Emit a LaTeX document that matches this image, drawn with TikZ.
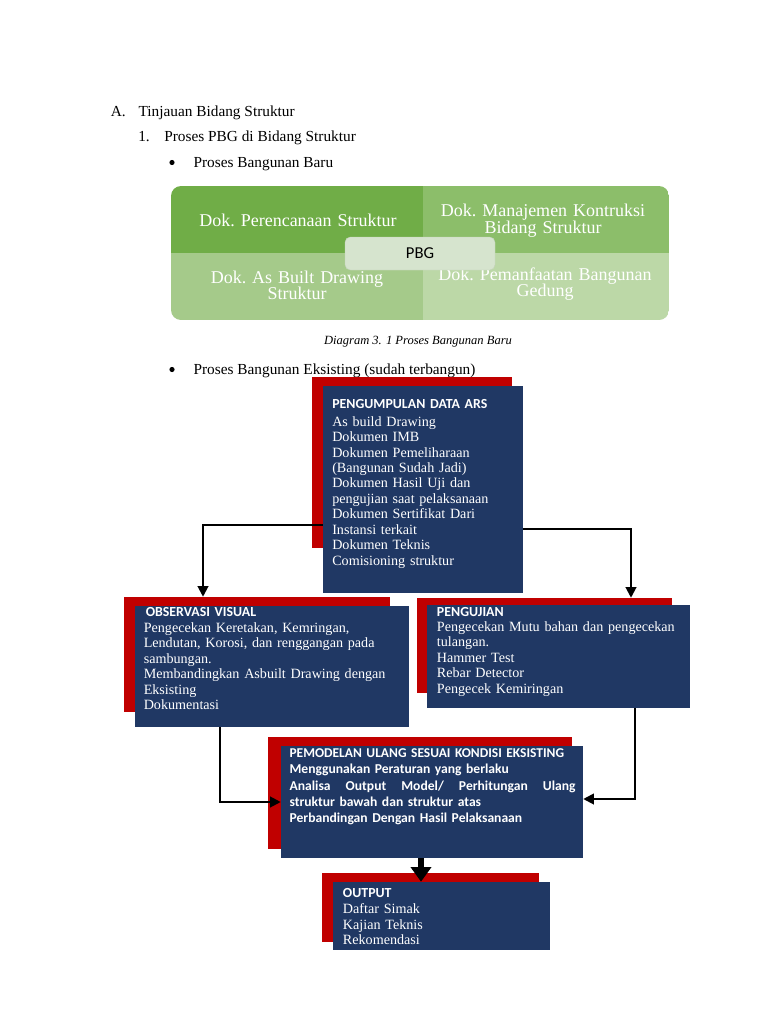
\documentclass[tikz,border=0pt]{standalone}
\usepackage{fontspec}
\setmainfont{Liberation Serif}
\setsansfont{Carlito}
\usetikzlibrary{fit,arrows.meta,calc}
\definecolor{navy}{HTML}{203864}
\definecolor{darkred}{HTML}{C00000}
\definecolor{gA}{HTML}{70AD47}
\definecolor{gB}{HTML}{8CBE6A}
\definecolor{gC}{HTML}{A5CA8A}
\definecolor{gD}{HTML}{BCD8A7}
\definecolor{pbgc}{HTML}{D6E4CE}
\begin{document}
\begin{tikzpicture}[x=0.75pt,y=-0.75pt,
  redbox/.style={fill=darkred,draw=none,inner sep=0pt},
  bluebox/.style={fill=navy,draw=none,inner sep=0pt},
  bodytxt/.style={text=white,anchor=base west,inner sep=0pt,align=left,text width=#1},
  serifbody/.style={font=\fontsize{10.6}{11.6}\selectfont\frenchspacing},
  hd/.style={anchor=base west,inner sep=0pt,font=\fontsize{11.5}{13}\selectfont},
  greentxt/.style={text=white,anchor=base,inner sep=0pt,align=center,text width=185pt,font=\fontsize{13.5}{12.5}\selectfont\frenchspacing},
  arr/.style={line width=1.5pt,-{Triangle[length=8pt,width=8pt]}},
  bigarr/.style={line width=4pt,-{Triangle[length=11pt,width=15pt]}}
]
\newcommand{\hdr}[1]{{\sffamily\bfseries\fontsize{10.4}{12}\selectfont #1}}
\useasboundingbox (0,0) rectangle (768,1024);
\fill[white] (0,0) rectangle (768,1024);

% headings
\node[hd] (hA) at (110.5,117) {A.};
\node[hd] (hAt) at (138.3,117) {Tinjauan Bidang Struktur};
\node[hd] (h1) at (138,142) {1.};
\node[hd] (h1t) at (164,142) {Proses PBG di Bidang Struktur};
\fill (172,162.5) circle (2.6);
\node[hd] (b1) at (193.3,167) {Proses Bangunan Baru};

% green panel
\begin{scope}
\clip[rounded corners=7.5pt] (171,186) rectangle (669,320);
\fill[gA] (171,186) rectangle (423,253);
\fill[gB] (423,186) rectangle (669,253);
\fill[gC] (171,253) rectangle (423,320);
\fill[gD] (423,253) rectangle (669,320);
\end{scope}
\node[greentxt] (g1) at (298,226.7) {Dok. Perencanaan Struktur};
\node[greentxt] (g2) at (543,216.7) {Dok. Manajemen Kontruksi\\Bidang Struktur};
\node[greentxt] (g3) at (297,283.3) {Dok. As Built Drawing\\Struktur};
\node[greentxt] (g4) at (545,280) {Dok. Pemanfaatan Bangunan\\Gedung};
\node[fill=pbgc,draw=pbgc!92!black,line width=0.3pt,rounded corners=4pt,inner sep=0pt,fit={(345,237)(495,270)}] (pbg) {};
\node[anchor=base,inner sep=0pt,font=\sffamily\fontsize{12.5}{14}\selectfont] (pbgt) at (420,258.3) {PBG};

\node[anchor=base,inner sep=0pt,font=\itshape\fontsize{9.4}{11}\selectfont] (cap) at (418,344) {Diagram 3. 1 Proses Bangunan Baru};

\fill (172,369.5) circle (2.6);
\node[hd] (b2) at (193.3,374) {Proses Bangunan Eksisting (sudah terbangun)};

% flowchart boxes
\node[redbox,fit={(312,377)(512,548)}] (pgr) {};
\node[bluebox,fit={(323,386)(523,593)}] (pgb) {};
\node[bodytxt=190pt,serifbody] (pgt) at (332,408.5) {\hdr{PENGUMPULAN DATA ARS}\\[1.6pt]
As build Drawing\\
Dokumen IMB\\
Dokumen Pemeliharaan\\
(Bangunan Sudah Jadi)\\
Dokumen Hasil Uji dan\\
pengujian saat pelaksanaan\\
Dokumen Sertifikat Dari\\
Instansi terkait\\
Dokumen Teknis\\
Comisioning struktur};

\node[redbox,fit={(124,597)(390,712)}] (obr) {};
\node[bluebox,fit={(135,606)(409,727)}] (obb) {};
\node[bodytxt=250pt,serifbody] (obt) at (143.5,616.7) {\hspace{1.5pt}\hdr{OBSERVASI VISUAL}\\
Pengecekan Keretakan, Kemringan,\\
Lendutan, Korosi, dan renggangan pada\\
sambungan.\\
Membandingkan Asbuilt Drawing dengan\\
Eksisting\\
Dokumentasi};

\node[redbox,fit={(417,598)(672,693)}] (pjr) {};
\node[bluebox,fit={(427,605)(690,708)}] (pjb) {};
\node[bodytxt=250pt,serifbody] (pjt) at (436.7,616) {\hdr{PENGUJIAN}\\
Pengecekan Mutu bahan dan pengecekan\\
tulangan.\\
Hammer Test\\
Rebar Detector\\
Pengecek Kemiringan};

\node[redbox,fit={(268,737)(572,849)}] (pmr) {};
\node[bluebox,fit={(281,746)(583,858)}] (pmb) {};
\node[bodytxt=214.5pt,font=\sffamily\bfseries\fontsize{10.2}{12.2}\selectfont] (pmt) at (289.3,757.7) {{\fontsize{10.1}{12}\selectfont PEMODELAN ULANG SESUAI KONDISI EKSISTING}\\
Menggunakan Peraturan yang berlaku\\
Analisa\hfill Output\hfill Model/\hfill Perhitungan\hfill Ulang\\
struktur bawah dan struktur atas\\
Perbandingan Dengan Hasil Pelaksanaan};

\node[redbox,fit={(322,873)(539,942)}] (otr) {};
\node[bluebox,fit={(333,882)(550,950)}] (otb) {};
\node[bodytxt=150pt,serifbody] (ott) at (342.7,897.3) {\hdr{OUTPUT}\\[0.8pt]
Daftar Simak\\
Kajian Teknis\\
Rekomendasi};

% connectors
\coordinate (j1) at (203,525);
\coordinate (j2) at (631,529);
\coordinate (j3) at (220,802);
\coordinate (j4) at (635,799);
\coordinate (j5) at (421,0);
\draw[arr] (pgb.west |- j1) -| (j1 |- obr.north);
\draw[arr] (pgb.east |- j2) -| (j2 |- pjr.north);
\draw[arr] (obb.south -| j3) |- (pmb.west |- j3);
\draw[arr] (pjb.south -| j4) |- (pmb.east |- j4);
\draw[bigarr] (pmb.south -| j5) -- (otb.north -| j5);
\end{tikzpicture}
\end{document}
